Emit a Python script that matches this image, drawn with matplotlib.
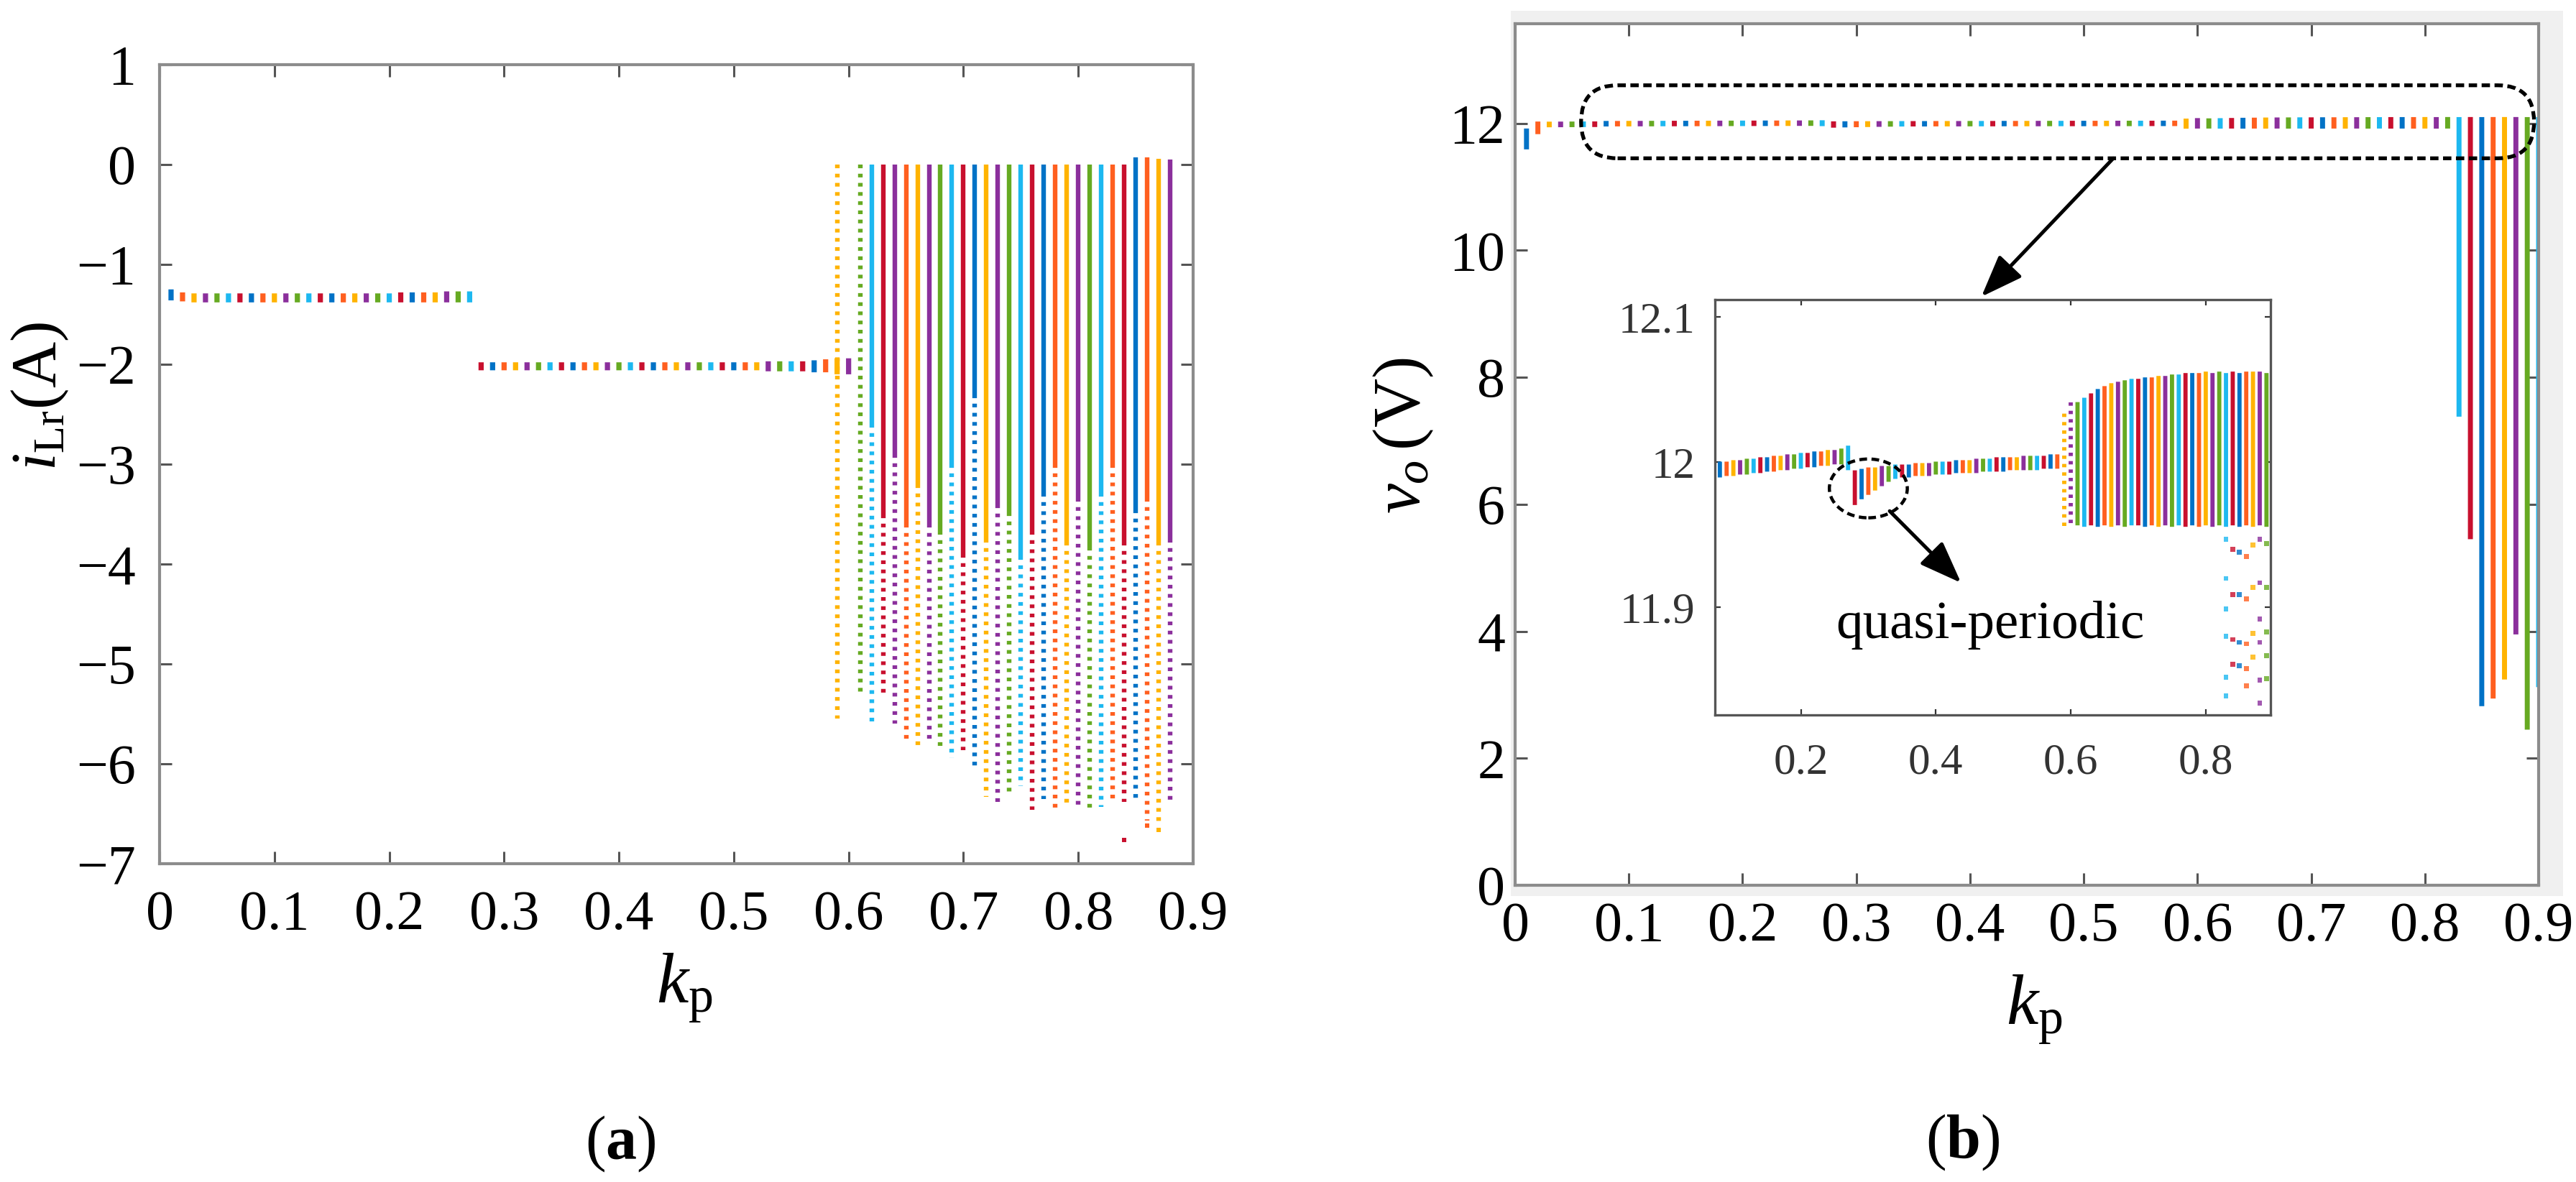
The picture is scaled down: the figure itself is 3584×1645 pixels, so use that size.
import numpy as np
import matplotlib
matplotlib.use("Agg")
import matplotlib.pyplot as plt
from matplotlib.patches import FancyBboxPatch, Ellipse, Rectangle, FancyArrowPatch

plt.rcParams['font.family'] = ['Liberation Serif', 'DejaVu Serif']
plt.rcParams['mathtext.fontset'] = 'custom'
plt.rcParams['mathtext.rm'] = 'Liberation Serif'
plt.rcParams['mathtext.it'] = 'Liberation Serif:italic'
plt.rcParams['mathtext.bf'] = 'Liberation Serif:bold'

# ======================= DATA: panel (a)  i_Lr vs k_p =======================
kp_a_p1 = [0.01, 0.02, 0.03, 0.04, 0.05, 0.06, 0.07, 0.08, 0.09, 0.10,
           0.11, 0.12, 0.13, 0.14, 0.15, 0.16, 0.17, 0.18, 0.19, 0.20,
           0.21, 0.22, 0.23, 0.24, 0.25, 0.26, 0.27]
ilr_p1_top = [-1.25, -1.28, -1.29, -1.29, -1.29, -1.29, -1.29, -1.29, -1.29, -1.29,
              -1.29, -1.29, -1.29, -1.29, -1.29, -1.29, -1.29, -1.29, -1.29, -1.29,
              -1.28, -1.28, -1.28, -1.28, -1.27, -1.27, -1.27]
ilr_p1_bot = [-1.36, -1.37, -1.38, -1.38, -1.38, -1.38, -1.38, -1.38, -1.38, -1.38,
              -1.38, -1.38, -1.38, -1.38, -1.38, -1.38, -1.38, -1.38, -1.38, -1.38,
              -1.38, -1.38, -1.38, -1.38, -1.38, -1.38, -1.38]

kp_a_p2 = [0.28, 0.29, 0.30, 0.31, 0.32, 0.33, 0.34, 0.35, 0.36, 0.37,
           0.38, 0.39, 0.40, 0.41, 0.42, 0.43, 0.44, 0.45, 0.46, 0.47,
           0.48, 0.49, 0.50, 0.51, 0.52, 0.53, 0.54, 0.55, 0.56, 0.57,
           0.58, 0.59, 0.60]
ilr_p2_top = [-1.98, -1.98, -1.98, -1.98, -1.98, -1.98, -1.98, -1.98, -1.98, -1.98,
              -1.98, -1.98, -1.98, -1.98, -1.98, -1.98, -1.98, -1.98, -1.98, -1.98,
              -1.98, -1.98, -1.98, -1.98, -1.98, -1.97, -1.97, -1.97, -1.97, -1.96,
              -1.95, -1.94, -1.94]
ilr_p2_bot = [-2.06, -2.06, -2.06, -2.06, -2.06, -2.06, -2.06, -2.06, -2.06, -2.06,
              -2.06, -2.06, -2.06, -2.06, -2.06, -2.06, -2.06, -2.06, -2.06, -2.06,
              -2.06, -2.06, -2.06, -2.06, -2.06, -2.07, -2.07, -2.07, -2.07, -2.08,
              -2.08, -2.10, -2.10]

kp_a_chaos = [0.59, 0.61, 0.62, 0.63, 0.64, 0.65, 0.66, 0.67, 0.68, 0.69,
              0.70, 0.71, 0.72, 0.73, 0.74, 0.75, 0.76, 0.77, 0.78, 0.79,
              0.80, 0.81, 0.82, 0.83, 0.84, 0.85, 0.86, 0.87, 0.88]
ilr_chaos_top = [0.0, 0.0, 0.0, 0.0, 0.0, 0.0, 0.0, 0.0, 0.0, 0.0,
                 0.0, 0.0, 0.0, 0.0, 0.0, 0.0, 0.0, 0.0, 0.0, 0.0,
                 0.0, 0.0, 0.0, 0.0, 0.0, 0.07, 0.07, 0.06, 0.05]
ilr_chaos_dense_bot = [0.0, 0.0, -2.6, -3.5, -2.9, -3.6, -3.2, -3.6, -3.67, -3.0,
                       -3.9, -2.3, -3.75, -3.4, -3.48, -3.92, -3.67, -3.29, -3.0, -3.78,
                       -3.34, -3.83, -3.29, -3.0, -3.78, -3.45, -3.34, -3.78, -3.75]
ilr_chaos_min = [-5.55, -5.30, -5.60, -5.30, -5.60, -5.75, -5.85, -5.80, -5.83, -5.94,
                 -5.86, -6.02, -6.33, -6.38, -6.33, -6.22, -6.46, -6.35, -6.46, -6.43,
                 -6.43, -6.49, -6.43, -6.38, -6.38, -6.38, -6.57, -6.60, -6.40]
chaos_a_colour_keys = ['y', 'g', 'c', 'r', 'p', 'o', 'y', 'p', 'g', 'c',
                       'r', 'b', 'y', 'p', 'g', 'c', 'r', 'b', 'o', 'y',
                       'p', 'g', 'c', 'o', 'r', 'b', 'o', 'y', 'p']
kp_a_iso = [0.84, 0.86, 0.87]
ilr_a_iso = [-6.76, -6.62, -6.66]

# ======================= DATA: panel (b)  v_o vs k_p ========================
kp_b = [0.01, 0.02, 0.03, 0.04, 0.05, 0.06, 0.07, 0.08, 0.09, 0.10,
        0.11, 0.12, 0.13, 0.14, 0.15, 0.16, 0.17, 0.18, 0.19, 0.20,
        0.21, 0.22, 0.23, 0.24, 0.25, 0.26, 0.27, 0.28, 0.29, 0.30,
        0.31, 0.32, 0.33, 0.34, 0.35, 0.36, 0.37, 0.38, 0.39, 0.40,
        0.41, 0.42, 0.43, 0.44, 0.45, 0.46, 0.47, 0.48, 0.49, 0.50,
        0.51, 0.52, 0.53, 0.54, 0.55, 0.56, 0.57, 0.58, 0.59, 0.60,
        0.61, 0.62, 0.63, 0.64, 0.65, 0.66, 0.67, 0.68, 0.69, 0.70,
        0.71, 0.72, 0.73, 0.74, 0.75, 0.76, 0.77, 0.78, 0.79, 0.80,
        0.81, 0.82, 0.83, 0.84, 0.85, 0.86, 0.87, 0.88, 0.89, 0.90]
vo_top_b = [11.88, 11.99, 11.988, 11.989, 11.990, 11.991, 11.992, 11.999, 11.999, 12.000,
            12.000, 12.001, 12.001, 12.002, 12.002, 12.003, 12.003, 12.004, 12.004, 12.005,
            12.005, 12.006, 12.006, 12.007, 12.007, 12.008, 12.010, 11.993, 11.994, 11.995,
            11.995, 11.996, 11.996, 11.997, 11.997, 11.997, 11.998, 11.998, 11.998, 11.999,
            11.999, 11.999, 12.000, 12.000, 12.000, 12.001, 12.001, 12.001, 12.002, 12.002,
            12.002, 12.002, 12.003, 12.003, 12.003, 12.003, 12.004, 12.004, 12.036, 12.044,
            12.040, 12.043, 12.046, 12.049, 12.051, 12.053, 12.054, 12.055, 12.056, 12.056,
            12.057, 12.057, 12.058, 12.058, 12.059, 12.059, 12.060, 12.060, 12.060, 12.061,
            12.060, 12.061, 12.060, 12.061, 12.060, 12.061, 12.061, 12.061, 12.060, 12.061]
vo_bot_b = [11.63, 11.87, 11.978, 11.979, 11.980, 11.981, 11.982, 11.991, 11.992, 11.992,
            11.993, 11.993, 11.994, 11.994, 11.995, 11.995, 11.996, 11.996, 11.997, 11.997,
            11.998, 11.998, 11.999, 11.999, 12.000, 12.000, 11.996, 11.972, 11.976, 11.979,
            11.982, 11.985, 11.988, 11.990, 11.991, 11.991, 11.992, 11.992, 11.992, 11.993,
            11.993, 11.993, 11.994, 11.994, 11.994, 11.994, 11.995, 11.995, 11.995, 11.995,
            11.996, 11.996, 11.996, 11.996, 11.996, 11.997, 11.997, 11.997, 11.956, 11.958,
            11.958, 11.957, 11.958, 11.957, 11.958, 11.957, 11.958, 11.957, 11.958, 11.958,
            11.957, 11.958, 11.957, 11.958, 11.957, 11.958, 11.957, 11.958, 11.957, 11.958,
            11.957, 11.958, 11.957, 11.958, 11.957, 11.958, 11.957, 11.958, 11.957, 11.958]
kp_b_sparse = [0.59, 0.60]
kp_b_tail = [0.83, 0.84, 0.85, 0.86, 0.87, 0.88, 0.89, 0.90]
vo_tail_min = [7.42, 5.49, 2.86, 2.98, 3.28, 3.99, 2.49, 3.16]
kp_b_dots = [0.83, 0.83, 0.83, 0.83, 0.83, 0.83,
             0.84, 0.84, 0.84, 0.84,
             0.85, 0.85, 0.85, 0.85,
             0.86, 0.86, 0.86, 0.86, 0.86,
             0.87, 0.87, 0.87, 0.87,
             0.88, 0.88, 0.88, 0.88, 0.88, 0.88,
             0.89, 0.89, 0.89, 0.89, 0.89,
             0.90, 0.90, 0.90, 0.90]
vo_b_dots = [11.947, 11.920, 11.899, 11.880, 11.852, 11.839,
             11.940, 11.909, 11.878, 11.861,
             11.938, 11.909, 11.876, 11.860,
             11.935, 11.906, 11.875, 11.858, 11.846,
             11.943, 11.914, 11.882, 11.866,
             11.947, 11.917, 11.892, 11.876, 11.850, 11.834,
             11.944, 11.914, 11.883, 11.867, 11.851,
             11.941, 11.912, 11.881, 11.865]

xticks_main = [0, 0.1, 0.2, 0.3, 0.4, 0.5, 0.6, 0.7, 0.8, 0.9]
xtick_labels_main = ['0', '0.1', '0.2', '0.3', '0.4', '0.5', '0.6', '0.7', '0.8', '0.9']
yticks_a = [-7, -6, -5, -4, -3, -2, -1, 0, 1]
ytick_labels_a = ['\u22127', '\u22126', '\u22125', '\u22124', '\u22123', '\u22122', '\u22121', '0', '1']
yticks_b = [0, 2, 4, 6, 8, 10, 12]
ytick_labels_b = ['0', '2', '4', '6', '8', '10', '12']
xticks_in = [0.2, 0.4, 0.6, 0.8]
xtick_labels_in = ['0.2', '0.4', '0.6', '0.8']
yticks_in = [11.9, 12.0, 12.1]
ytick_labels_in = ['11.9', '12', '12.1']

# ======================= STYLE =======================
PAL = {'b': '#0072C6', 'o': '#FF5F1F', 'y': '#FFB300', 'p': '#8B2F9C',
       'g': '#66AA22', 'c': '#1DB8F0', 'r': '#C8102E'}
CYCLE = ['b', 'o', 'y', 'p', 'g', 'c', 'r']


def cyc(k):
    return PAL[CYCLE[(int(round(k * 100)) - 1) % 7]]


W, H, DPI = 3584, 1645, 200
fig = plt.figure(figsize=(W / DPI, H / DPI), dpi=DPI)
fig.patch.set_facecolor('white')


def px_rect(x0, y0, x1, y1):
    return [x0 / W, 1 - y1 / H, (x1 - x0) / W, (y1 - y0) / H]


# light-grey MATLAB figure background behind panel (b)
fig.add_artist(Rectangle((2102 / W, 1 - 1247 / H), 1464 / W, 1232 / H,
                         transform=fig.transFigure, facecolor='#f0f0f0',
                         edgecolor='none', zorder=-10))

ax1 = fig.add_axes(px_rect(222, 90, 1660, 1202))
ax2 = fig.add_axes(px_rect(2108, 33, 3532, 1232))
axi = fig.add_axes(px_rect(2386, 417, 3159, 995))
axi.set_zorder(3)


def style(ax, spine_c, spine_w, tlen, tw, tcol, lsize, lcol, padx, pady):
    ax.set_facecolor('white')
    for s in ax.spines.values():
        s.set_color(spine_c)
        s.set_linewidth(spine_w)
    ax.tick_params(axis='both', which='both', direction='in', top=True, right=True,
                   length=tlen, width=tw, color=tcol, labelsize=lsize, labelcolor=lcol)
    ax.tick_params(axis='x', pad=padx)
    ax.tick_params(axis='y', pad=pady)


# ---------------- panel (a) ----------------
ax1.vlines(kp_a_p1, ilr_p1_bot, ilr_p1_top, colors=[cyc(k) for k in kp_a_p1],
           linewidth=2.6, capstyle='butt', snap=False)
ax1.vlines(kp_a_p2, ilr_p2_bot, ilr_p2_top, colors=[cyc(k) for k in kp_a_p2],
           linewidth=2.6, capstyle='butt', snap=False)
for k, t, d, m, ck in zip(kp_a_chaos, ilr_chaos_top, ilr_chaos_dense_bot,
                          ilr_chaos_min, chaos_a_colour_keys):
    col = PAL[ck]
    if d < t:
        ax1.plot([k, k], [t, d], color=col, lw=2.3, solid_capstyle='butt')
    ax1.plot([k, k], [d, m], color=col, lw=2.3, linestyle=(0, (0.8, 1.2)),
             dash_capstyle='butt')
ax1.scatter(kp_a_iso, ilr_a_iso, s=5, marker='s',
            c=[PAL['r'], PAL['o'], PAL['y']], linewidths=0)

ax1.set_xlim(0, 0.9)
ax1.set_ylim(-7, 1)
ax1.set_xticks(xticks_main)
ax1.set_xticklabels(xtick_labels_main)
ax1.set_yticks(yticks_a)
ax1.set_yticklabels(ytick_labels_a)
style(ax1, '#8c8c8c', 1.5, 6, 1.1, '#555555', 28, 'black', 13, 12)
ax1.set_xlabel(r'$k_{\mathrm{p}}$', fontsize=36)
ax1.xaxis.label.set_va('center')
ax1.xaxis.set_label_coords(0.508, -0.156)
ax1.set_ylabel(r'$i_{\mathrm{Lr}}$(A)', fontsize=32)
ax1.yaxis.label.set_va('center')
ax1.yaxis.set_label_coords(-0.116, 0.585)

# ---------------- panel (b) main ----------------
tail_map = dict(zip(kp_b_tail, vo_tail_min))
vo_main_bot = [tail_map.get(k, b) for k, b in zip(kp_b, vo_bot_b)]
ax2.vlines(kp_b, vo_main_bot, vo_top_b, colors=[cyc(k) for k in kp_b],
           linewidth=2.5, capstyle='projecting', snap=False)
ax2.set_xlim(0, 0.9)
ax2.set_ylim(0, 13.57)
ax2.set_xticks(xticks_main)
ax2.set_xticklabels(xtick_labels_main)
ax2.set_yticks(yticks_b)
ax2.set_yticklabels(ytick_labels_b)
style(ax2, '#8c8c8c', 1.5, 6, 1.1, '#555555', 28, 'black', 8, 5)
ax2.set_xlabel(r'$k_{\mathrm{p}}$', fontsize=36)
ax2.xaxis.label.set_va('center')
ax2.xaxis.set_label_coords(0.507, -0.145)
ax2.set_ylabel(r'$v_o\,$(V)', fontsize=34)
ax2.yaxis.label.set_va('center')
ax2.yaxis.set_label_coords(-0.109, 0.522)

# ---------------- panel (b) inset ----------------
dense_k = [k for k in kp_b if k not in kp_b_sparse]
dense_t = [t for k, t in zip(kp_b, vo_top_b) if k not in kp_b_sparse]
dense_b = [b for k, b in zip(kp_b, vo_bot_b) if k not in kp_b_sparse]
axi.vlines(dense_k, dense_b, dense_t, colors=[cyc(k) for k in dense_k],
           linewidth=2.1, capstyle='projecting', snap=False)
for k, t, b in zip(kp_b, vo_top_b, vo_bot_b):
    if k in kp_b_sparse:
        axi.plot([k, k], [b, t], color=cyc(k), lw=2.1, linestyle=(0, (0.8, 1.2)))
axi.scatter(kp_b_dots, vo_b_dots, s=6, marker='s',
            c=[cyc(k) for k in kp_b_dots], linewidths=0, alpha=0.8)
axi.set_xlim(0.0727, 0.896)
axi.set_ylim(11.826, 12.112)
axi.set_xticks(xticks_in)
axi.set_xticklabels(xtick_labels_in)
axi.set_yticks(yticks_in)
axi.set_yticklabels(ytick_labels_in)
style(axi, '#555555', 1.2, 3, 0.8, '#333333', 22, '#333333', 14, 10)

# ---------------- annotations ----------------
fig.canvas.draw()
inv = fig.dpi_scale_trans.inverted()
p0 = inv.transform(ax2.transData.transform((0.058, 11.45)))
p1 = inv.transform(ax2.transData.transform((0.896, 12.60)))
hh = p1[1] - p0[1]
stadium = FancyBboxPatch((p0[0], p0[1]), p1[0] - p0[0], hh,
                         boxstyle='round,pad=0,rounding_size=%f' % (hh / 2),
                         transform=fig.dpi_scale_trans, fill=False,
                         edgecolor='black', linewidth=1.9,
                         linestyle=(0, (2.2, 1.2)), zorder=6)
fig.add_artist(stadium)

arr1 = FancyArrowPatch((0.526, 11.45), (0.41, 9.27), transform=ax2.transData,
                       arrowstyle='-|>,head_length=0.45,head_width=0.17',
                       mutation_scale=40, lw=1.8, color='black',
                       shrinkA=0, shrinkB=0, zorder=6)
fig.add_artist(arr1)

ell = Ellipse((0.30, 11.982), 0.1155, 0.0405, transform=axi.transData,
              fill=False, edgecolor='black', linewidth=1.6,
              linestyle=(0, (2.4, 1.4)), zorder=7)
fig.add_artist(ell)

arr2 = FancyArrowPatch((0.3316, 11.9664), (0.4374, 11.917), transform=axi.transData,
                       arrowstyle='-|>,head_length=0.45,head_width=0.17',
                       mutation_scale=40, lw=1.8, color='black',
                       shrinkA=0, shrinkB=0, zorder=7)
fig.add_artist(arr2)

axi.text(0.480, 11.888, 'quasi-periodic', fontsize=27, ha='center', va='center',
         color='black', zorder=8)

fig.text(863 / W, 1 - 1592 / H, r'($\mathbf{a}$)', fontsize=31, ha='center', va='center')
fig.text(2731 / W, 1 - 1590 / H, r'($\mathbf{b}$)', fontsize=31, ha='center', va='center')

fig.savefig('out.png', dpi=DPI)
